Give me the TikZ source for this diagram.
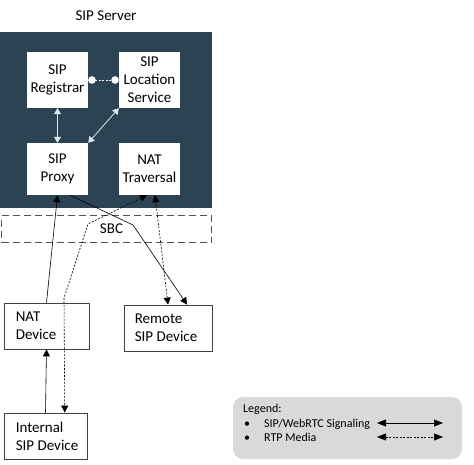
\documentclass[tikz,border=0pt]{standalone}
\usepackage{fontspec}
\setmainfont{Carlito}
\usetikzlibrary{arrows.meta,calc}
\definecolor{darkbg}{RGB}{44,67,84}
\definecolor{legendbg}{RGB}{217,217,217}
\definecolor{dashgray}{RGB}{72,86,96}
\definecolor{lightarrow}{RGB}{225,230,235}
\tikzset{
  innerbox/.style={fill=white, draw=none, minimum width=61pt, align=center, inner sep=0pt, font=\fontsize{15}{18}\selectfont},
  devbox/.style={fill=white, draw=black!75, line width=0.8pt, inner sep=0pt},
  devtext/.style={anchor=west, align=left, inner sep=0pt, font=\fontsize{15}{18}\selectfont},
  sig/.style={draw=black, line width=0.6pt, -{Triangle[length=7pt,width=7pt]}},
  med/.style={draw=black, line width=0.6pt, dash pattern=on 2pt off 1.5pt, {Triangle[length=7pt,width=7pt]}-{Triangle[length=7pt,width=7pt]}},
  whitearr/.style={draw=lightarrow, line width=0.8pt, {Triangle[length=6pt,width=7pt]}-{Triangle[length=6pt,width=7pt]}},
  legtext/.style={anchor=base west, font=\fontsize{12}{14}\selectfont, inner sep=0pt},
}
\begin{document}
\begin{tikzpicture}[x=1pt,y=-1pt]
\useasboundingbox (0,0) rectangle (474,464);
% title
\node[font=\fontsize{15}{18}\selectfont] (title) at (106,16) {SIP Server};
% server box
\fill[darkbg] (0,32) rectangle (212,208);
\node[innerbox, minimum height=56pt] (reg) at (57.5,80) {SIP\\Registrar};
\node[innerbox, minimum height=56pt] (loc) at (149.5,80) {SIP\\Location\\Service};
\node[innerbox, minimum height=52pt] (proxy) at (57.5,169) {SIP\\Proxy};
\node[innerbox, minimum height=52pt] (trav) at (149.5,169) {NAT\\Traversal};
% internal connectors
\draw[white, line width=0.8pt, dash pattern=on 2pt off 1.5pt, {Circle[length=7.5pt,fill=white]}-{Circle[length=7.5pt,fill=white]}] (reg.east) -- (loc.west);
\draw[whitearr] (reg.south) -- (proxy.north);
\draw[whitearr] (loc.south west) -- (proxy.north east);
% SBC
\node[draw=dashgray, line width=1.8pt, dash pattern=on 7pt off 4pt, minimum width=210pt, minimum height=27pt, inner sep=0pt, font=\fontsize{15}{18}\selectfont] (sbc) at (106.5,229) {\hspace{10pt}SBC};
% devices
\node[devbox, minimum width=85pt, minimum height=46pt] (natdev) at (46.5,326) {};
\node[devtext] (natdevtext) at ($(natdev.west)+(12,0)$) {NAT\\Device};
\node[devbox, minimum width=88pt, minimum height=46pt] (remote) at (168,328) {};
\node[devtext] (remotetext) at ($(remote.west)+(11,0)$) {Remote\\SIP Device};
\node[devbox, minimum width=83pt, minimum height=46pt] (internal) at (45.5,436) {};
\node[devtext] (internaltext) at ($(internal.west)+(12,0)$) {Internal\\SIP Device};
% signaling
\draw[sig] (natdev.north) -- (proxy.south);
\draw[sig] (internal.north) -- (natdev.south);
\coordinate (bend1) at (133,225);
\draw[sig] ($(proxy.south)!0.41!(proxy.south east)$) -- (bend1) -- ($(remote.north)!0.43!(remote.north east)$);
% media
\coordinate (m1) at (88,224);
\coordinate (m2) at (64,298);
\draw[med] ($(trav.south)+(-2.5,0)$) -- (m1) -- (m2) -- ($(internal.north)!0.46!(internal.north east)$);
\draw[med] ($(trav.south)+(5.5,0)$) -- (remote.north);
% legend
\node[fill=legendbg, rounded corners=10pt, minimum width=229pt, minimum height=62pt, inner sep=0pt] (legend) at (347.5,428) {};
\node[legtext] (legtitle) at (243,412) {Legend:};
\node[legtext] (b1) at (244,427) {•};
\node[legtext] (l1) at (264,427) {SIP/WebRTC Signaling};
\node[legtext] (b2) at (244,441) {•};
\node[legtext] (l2) at (264,441) {RTP Media};
\coordinate (s1a) at (377,423);
\coordinate (s1b) at (443,423);
\coordinate (s2a) at (377,437);
\coordinate (s2b) at (443,437);
\draw[line width=0.6pt, {Triangle[length=9pt,width=7pt]}-{Triangle[length=9pt,width=7pt]}] (s1a) -- (s1b);
\draw[line width=0.6pt, dash pattern=on 2pt off 1.5pt, {Triangle[length=9pt,width=7pt]}-{Triangle[length=9pt,width=7pt]}] (s2a) -- (s2b);
\end{tikzpicture}
\end{document}
